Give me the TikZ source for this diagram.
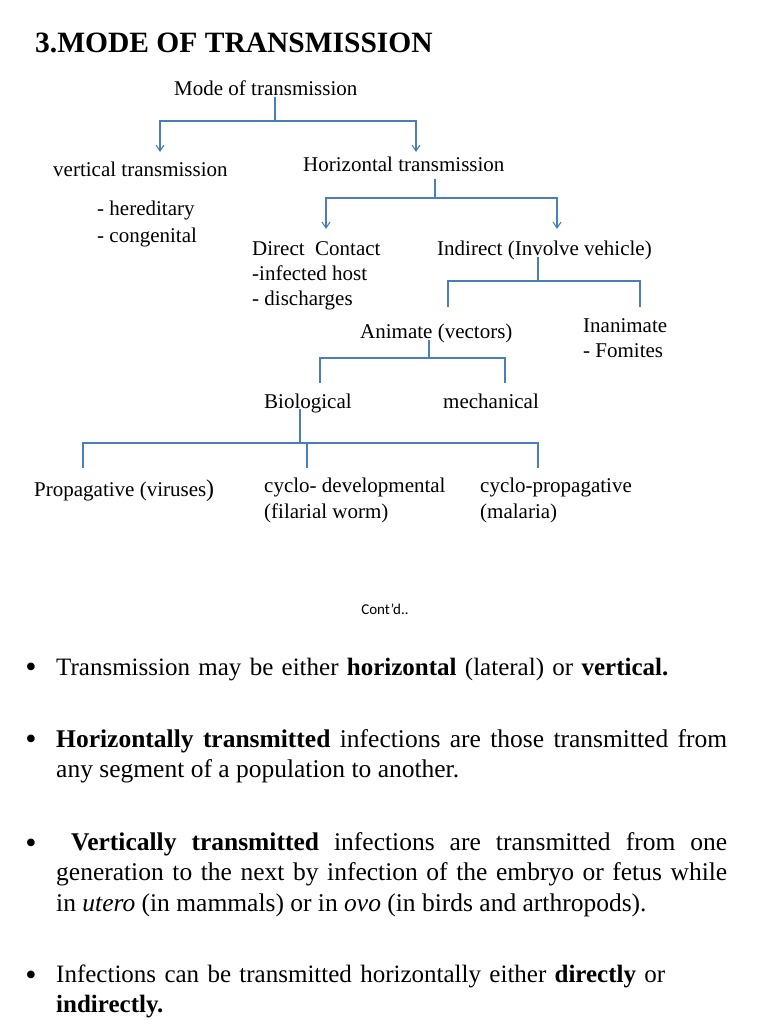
\documentclass[tikz,border=0pt]{standalone}
\usepackage{fontspec}
\setmainfont{Liberation Serif}
\newfontfamily\calfont{Carlito}
\usetikzlibrary{arrows.meta}
\definecolor{conncol}{RGB}{74,126,187}
\begin{document}
\begin{tikzpicture}[x=1pt,y=-1pt,
  lbl/.style={anchor=base west, inner sep=0pt, font=\fontsize{21}{25}\selectfont},
  conn/.style={draw=conncol, line width=1.1pt},
  arr/.style={conn, -{Straight Barb[length=6pt,width=8pt]}},
  para/.style={anchor=north west, inner sep=0pt, text width=671pt, align=justify, font=\fontsize{25.5}{30.5}\selectfont},
  paral/.style={para, align=left, font=\fontsize{25}{30.5}\selectfont},
  bul/.style={anchor=base, inner sep=0pt, font=\fontsize{32}{32}\selectfont}]
\useasboundingbox[fill=white] (0,0) rectangle (768,1024);

% title
\node[anchor=base west, inner sep=0pt, font=\fontsize{29.5}{34}\selectfont\bfseries] (title) at (35,53) {3.MODE OF TRANSMISSION};

% diagram labels
\node[lbl] (mode) at (174,96) {Mode of transmission};
\node[lbl] (vt) at (53,177) {vertical transmission};
\node[lbl] (her) at (97,216) {- hereditary};
\node[lbl] (con) at (97,242) {- congenital};
\node[lbl] (ht) at (303,172) {Horizontal transmission};
\node[lbl] (dc) at (252,255) {Direct\ \ Contact};
\node[lbl] (dch) at (252,280) {-infected host};
\node[lbl] (dcd) at (252,305) {- discharges};
\node[lbl] (ind) at (437,255) {Indirect (Involve vehicle)};
\node[lbl] (ani) at (360,338) {Animate (vectors)};
\node[lbl] (inan) at (583,332) {Inanimate};
\node[lbl] (fom) at (583,357) {- Fomites};
\node[lbl] (bio) at (264,408) {Biological};
\node[lbl] (mech) at (443,408) {mechanical};
\node[lbl] (prop) at (34,496) {Propagative (viruses{\fontsize{24}{24}\selectfont)}};
\node[lbl] (cd) at (264,492) {cyclo- developmental};
\node[lbl] (fw) at (264,518) {(filarial worm)};
\node[lbl] (cp) at (480,492) {cyclo-propagative};
\node[lbl] (mal) at (480,518) {(malaria)};

% connector points
\coordinate (s1) at (275,97);  \coordinate (j1) at (275,121);
\coordinate (t1a) at (160,152); \coordinate (t1b) at (416,152);
\coordinate (s2) at (435,179); \coordinate (j2) at (435,198);
\coordinate (t2a) at (326,229); \coordinate (t2b) at (557,229);
\coordinate (s3) at (538,257); \coordinate (j3) at (538,281);
\coordinate (t3a) at (448,307); \coordinate (t3b) at (640,307);
\coordinate (s4) at (429,340); \coordinate (j4) at (429,358);
\coordinate (t4a) at (320,383); \coordinate (t4b) at (505,383);
\coordinate (s5) at (300,409); \coordinate (j5) at (300,443);
\coordinate (t5a) at (83,468); \coordinate (t5b) at (307,468); \coordinate (t5c) at (538,468);

% connectors
\draw[conn] (s1) -- (j1);
\draw[arr] (j1) -| (t1a);
\draw[arr] (j1) -| (t1b);
\draw[conn] (s2) -- (j2);
\draw[arr] (j2) -| (t2a);
\draw[arr] (j2) -| (t2b);
\draw[conn] (s3) -- (j3);
\draw[conn] (j3) -| (t3a);
\draw[conn] (j3) -| (t3b);
\draw[conn] (s4) -- (j4);
\draw[conn] (j4) -| (t4a);
\draw[conn] (j4) -| (t4b);
\draw[conn] (s5) -- (j5);
\draw[conn] (j5) -| (t5a);
\draw[conn] (j5) -| (t5b);
\draw[conn] (j5) -| (t5c);

% cont'd
\node[inner sep=0pt, font=\calfont\fontsize{15}{18}\selectfont] (contd) at (385,609) {Cont’d..};

% bullets
\node[bul] (b1) at (31,677) {\textbullet};
\node[bul] (b2) at (31,749) {\textbullet};
\node[bul] (b3) at (31,853) {\textbullet};
\node[bul] (b4) at (31,985) {\textbullet};

% paragraphs
\node[paral] (p1) at (56,655) {\noindent\rule{0pt}{20pt}Transmission may be either \textbf{horizontal} (lateral) or \textbf{vertical.}};
\node[para] (p2) at (56,727) {\noindent\rule{0pt}{20pt}\textbf{Horizontally transmitted} infections are those transmitted from\linebreak any segment of a population to another.};
\node[para] (p3) at (56,830) {\noindent\rule{0pt}{20pt}\hspace*{15pt}\textbf{Vertically transmitted} infections are transmitted from one\linebreak generation to the next by infection of the embryo or fetus while\linebreak in \textit{utero} (in mammals) or in \textit{ovo} (in birds and arthropods).};
\node[paral] (p4) at (56,962) {\noindent\rule{0pt}{20pt}Infections can be transmitted horizontally either \textbf{directly} or\\ \textbf{indirectly.}};
\end{tikzpicture}
\end{document}
